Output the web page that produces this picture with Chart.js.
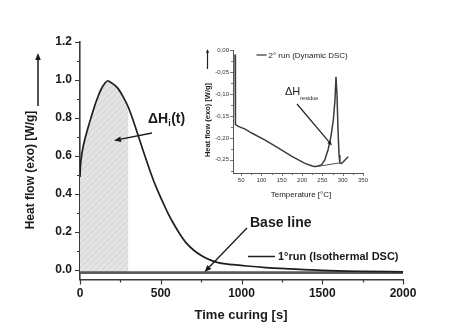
<!DOCTYPE html>
<html><head><meta charset="utf-8">
<script src="https://cdn.jsdelivr.net/npm/chart.js@4"></script>
<style>
html,body{margin:0;padding:0;background:#fff;}
#wrap{position:relative;width:474px;height:332px;overflow:hidden;}
#main{position:absolute;left:0;top:0;}
#inset{position:absolute;left:185px;top:40px;}
</style></head><body>
<div id="wrap"><canvas id="main" width="474" height="332"></canvas><canvas id="inset" width="195" height="165"></canvas></div>
<script>
// ---- main chart data (1st run, isothermal DSC) ----
const timeS      = [0, 3, 8, 15, 29, 50, 70, 90, 111, 130, 153, 173, 185, 194, 210, 235, 265, 300, 349, 390, 420, 454, 485, 516, 545, 578, 620, 660, 710, 764, 820, 867, 950, 1032, 1150, 1300, 1500, 1750, 2000];
const heatFlow1  = [0.49, 0.55, 0.59, 0.63, 0.684, 0.75, 0.807, 0.862, 0.912, 0.95, 0.982, 0.996, 0.99, 0.986, 0.976, 0.956, 0.915, 0.855, 0.737, 0.63, 0.555, 0.474, 0.41, 0.351, 0.298, 0.246, 0.187, 0.14, 0.1, 0.07, 0.048, 0.036, 0.028, 0.021, 0.013, 0.006, -0.002, -0.007, -0.01];
const baseLineTime  = [0, 2000];
const baseLineValue = [-0.014, -0.014];
const shadeEndTime  = 300;
const xTicksMain = [0, 500, 1000, 1500, 2000];
const xMinorMain = [250, 750, 1250, 1750];
const yTicksMain = [0, 0.2, 0.4, 0.6, 0.8, 1.0, 1.2];
const yMinorMain = [0.1, 0.3, 0.5, 0.7, 0.9, 1.1];

// ---- inset data (2nd run, dynamic DSC) ----
const temperatureC = [35, 35, 37, 43, 60, 76, 109, 141, 175, 207, 225, 232, 240, 248, 256, 264, 271, 277, 281, 283.5, 286, 288.5, 291, 293, 297, 301, 308, 314];
const heatFlow2    = [-0.01, -0.164, -0.170, -0.174, -0.18, -0.189, -0.205, -0.223, -0.242, -0.258, -0.264, -0.265, -0.264, -0.261, -0.25, -0.227, -0.197, -0.159, -0.114, -0.061, -0.102, -0.182, -0.239, -0.257, -0.258, -0.255, -0.248, -0.243];
const residueBaseT = [230, 293];
const residueBaseV = [-0.266, -0.257];
const xTicksInset = [50, 100, 150, 200, 250, 300, 350];
const xMinorInset = [75, 125, 175, 225, 275, 325];
const yTicksInset = [0, -0.05, -0.10, -0.15, -0.20, -0.25];
const yMinorInset = [-0.025, -0.075, -0.125, -0.175, -0.225, -0.275];

const FONT = "'Liberation Sans', Arial, Helvetica, sans-serif";
const pts = (xs, ys) => xs.map((x, i) => ({x: x, y: ys[i]}));

function hatch() {
  const c = document.createElement('canvas'); c.width = 6; c.height = 6;
  const g = c.getContext('2d');
  g.fillStyle = '#e3e3e3'; g.fillRect(0, 0, 6, 6);
  g.strokeStyle = '#d3d3d3'; g.lineWidth = 1;
  g.beginPath(); g.moveTo(0, 6); g.lineTo(6, 0); g.stroke();
  return g.createPattern(c, 'repeat');
}

function arrow(ctx, x1, y1, x2, y2, head, w, color) {
  ctx.save();
  ctx.strokeStyle = color; ctx.fillStyle = color; ctx.lineWidth = w;
  const ang = Math.atan2(y2 - y1, x2 - x1);
  const bx = x2 - head * Math.cos(ang), by = y2 - head * Math.sin(ang);
  ctx.beginPath(); ctx.moveTo(x1, y1); ctx.lineTo(bx, by); ctx.stroke();
  ctx.beginPath();
  ctx.moveTo(x2, y2);
  ctx.lineTo(bx + head * 0.4 * Math.sin(ang), by - head * 0.4 * Math.cos(ang));
  ctx.lineTo(bx - head * 0.4 * Math.sin(ang), by + head * 0.4 * Math.cos(ang));
  ctx.closePath(); ctx.fill();
  ctx.restore();
}

function tickPlugin(c) {
  return {
    id: 'tickMarks',
    afterDraw(chart) {
      const ctx = chart.ctx, a = chart.chartArea, xs = chart.scales.x, ys = chart.scales.y;
      ctx.save(); ctx.strokeStyle = c.color; ctx.lineWidth = c.w; ctx.beginPath();
      const xt = (v, L) => { const p = Math.round(xs.getPixelForValue(v)) + 0.5; ctx.moveTo(p, a.bottom); ctx.lineTo(p, a.bottom + L); };
      const yt = (v, L) => { const p = Math.round(ys.getPixelForValue(v)) + 0.5; ctx.moveTo(a.left, p); ctx.lineTo(a.left - L, p); };
      c.xMajor.forEach(v => xt(v, c.maj)); c.xMinor.forEach(v => xt(v, c.min));
      c.yMajor.forEach(v => yt(v, c.maj)); c.yMinor.forEach(v => yt(v, c.min));
      ctx.stroke(); ctx.restore();
    }
  };
}

const mainAnnot = {
  id: 'mainAnnot',
  afterDraw(chart) {
    const ctx = chart.ctx;
    ctx.save();
    ctx.fillStyle = '#1a1a1a';
    // ΔHi(t)
    ctx.font = 'bold 14px ' + FONT; ctx.textBaseline = 'alphabetic'; ctx.textAlign = 'left';
    let x = 148;
    ctx.fillText('ΔH', x, 123); x += ctx.measureText('ΔH').width;
    ctx.font = 'bold 9px ' + FONT; ctx.fillText('i', x, 126); x += ctx.measureText('i').width + 0.5;
    ctx.font = 'bold 14px ' + FONT; ctx.fillText('(t)', x, 123);
    arrow(ctx, 152, 133, 114, 140.5, 7, 1.4, '#1a1a1a');
    // Base line
    ctx.font = 'bold 14px ' + FONT; ctx.fillText('Base line', 250, 227);
    arrow(ctx, 247, 228, 204.5, 272, 7, 1.3, '#1a1a1a');
    // legend
    ctx.strokeStyle = '#222'; ctx.lineWidth = 1.5;
    ctx.beginPath(); ctx.moveTo(248, 256.5); ctx.lineTo(275, 256.5); ctx.stroke();
    ctx.font = 'bold 11px ' + FONT; ctx.textBaseline = 'middle';
    ctx.fillText('1°run (Isothermal DSC)', 278, 257);
    // axis titles
    ctx.font = 'bold 13px ' + FONT; ctx.textAlign = 'center'; ctx.textBaseline = 'alphabetic';
    ctx.fillText('Time curing [s]', 241, 319);
    ctx.save(); ctx.translate(34, 170); ctx.rotate(-Math.PI / 2);
    ctx.font = 'bold 12px ' + FONT; ctx.fillText('Heat flow (exo) [W/g]', 0, 0);
    ctx.restore();
    arrow(ctx, 38, 106, 38, 53, 7, 1.5, '#1a1a1a');
    ctx.restore();
  }
};

const insetAnnot = {
  id: 'insetAnnot',
  afterDraw(chart) {
    const ctx = chart.ctx;
    ctx.save();
    ctx.fillStyle = '#222'; ctx.strokeStyle = '#333'; ctx.lineWidth = 1.2;
    ctx.beginPath(); ctx.moveTo(71.5, 15); ctx.lineTo(81.5, 15); ctx.stroke();
    ctx.font = '8px ' + FONT; ctx.textBaseline = 'middle'; ctx.textAlign = 'left';
    ctx.fillText('2° run (Dynamic DSC)', 83.5, 15.5);
    ctx.textBaseline = 'alphabetic';
    ctx.font = '11px ' + FONT; ctx.fillText('ΔH', 100, 55);
    const w = ctx.measureText('ΔH').width;
    ctx.font = '5.5px ' + FONT; ctx.fillText('residue', 100 + w, 60);
    arrow(ctx, 112, 64, 147, 105.5, 5, 1.2, '#222');
    ctx.font = '8px ' + FONT; ctx.textAlign = 'center';
    ctx.fillText('Temperature [°C]', 116, 157);
    ctx.save(); ctx.translate(25, 80); ctx.rotate(-Math.PI / 2);
    ctx.font = 'bold 7.5px ' + FONT; ctx.fillText('Heat flow (exo) [W/g]', 0, 0);
    ctx.restore();
    arrow(ctx, 22.5, 29, 22.5, 9, 4, 1.2, '#222');
    ctx.restore();
  }
};

const shadePts = pts(timeS, heatFlow1).filter(p => p.x <= shadeEndTime);
const gridOff = {display: false, drawTicks: false, tickLength: 0};

new Chart(document.getElementById('main'), {
  type: 'scatter',
  data: {
    datasets: [
      {data: pts(timeS, heatFlow1), showLine: true, borderColor: '#1e1e1e', borderWidth: 1.7, pointRadius: 0, cubicInterpolationMode: 'monotone', fill: false},
      {data: pts(baseLineTime, baseLineValue), showLine: true, borderColor: '#5a5a5a', borderWidth: 2.6, pointRadius: 0, fill: false},
      {data: shadePts, showLine: true, borderWidth: 0, borderColor: 'rgba(0,0,0,0)', pointRadius: 0, cubicInterpolationMode: 'monotone', backgroundColor: hatch(), fill: {value: baseLineValue[0]}}
    ]
  },
  options: {
    responsive: false, animation: false, devicePixelRatio: 1,
    layout: {padding: {left: 0, right: 71, top: 42, bottom: 0}},
    plugins: {legend: {display: false}, tooltip: {enabled: false}},
    scales: {
      x: {type: 'linear', min: 0, max: 2000,
          afterBuildTicks: s => { s.ticks = xTicksMain.map(v => ({value: v})); },
          afterFit: s => { s.height = 52.5; },
          ticks: {font: {family: FONT, size: 12, weight: 'bold'}, color: '#1a1a1a', padding: 7, maxRotation: 0, callback: v => String(v)},
          grid: gridOff, border: {display: true, color: '#3a3a3a', width: 1.6}},
      y: {type: 'linear', min: -0.05, max: 1.2,
          afterBuildTicks: s => { s.ticks = yTicksMain.map(v => ({value: v})); },
          afterFit: s => { s.width = 80; },
          ticks: {font: {family: FONT, size: 12, weight: 'bold'}, color: '#1a1a1a', padding: 8, callback: v => Number(v).toFixed(1)},
          grid: gridOff, border: {display: true, color: '#3a3a3a', width: 1.6}}
    }
  },
  plugins: [tickPlugin({color: '#3a3a3a', w: 1.2, maj: 5, min: 3, xMajor: xTicksMain, xMinor: xMinorMain, yMajor: yTicksMain, yMinor: yMinorMain}), mainAnnot]
});

new Chart(document.getElementById('inset'), {
  type: 'scatter',
  data: {
    datasets: [
      {data: pts(temperatureC, heatFlow2), showLine: true, borderColor: '#3c3c3c', borderWidth: 1.5, pointRadius: 0, tension: 0, fill: false},
      {data: pts(residueBaseT, residueBaseV), showLine: true, borderColor: '#555', borderWidth: 1, pointRadius: 0, fill: false}
    ]
  },
  options: {
    responsive: false, animation: false, devicePixelRatio: 1,
    layout: {padding: {left: 0, right: 17, top: 10, bottom: 0}},
    plugins: {legend: {display: false}, tooltip: {enabled: false}},
    scales: {
      x: {type: 'linear', min: 30, max: 350,
          afterBuildTicks: s => { s.ticks = xTicksInset.map(v => ({value: v})); },
          afterFit: s => { s.height = 32; },
          ticks: {font: {family: FONT, size: 6}, color: '#333', padding: 4, maxRotation: 0, callback: v => String(v)},
          grid: gridOff, border: {display: true, color: '#555', width: 1}},
      y: {type: 'linear', min: -0.28, max: 0,
          afterBuildTicks: s => { s.ticks = yTicksInset.map(v => ({value: v})); },
          afterFit: s => { s.width = 48; },
          ticks: {font: {family: FONT, size: 6}, color: '#333', padding: 4,
                  callback: v => (Math.abs(v) < 1e-9 ? '0,00' : Number(v).toFixed(2).replace('.', ','))},
          grid: gridOff, border: {display: true, color: '#555', width: 1}}
    }
  },
  plugins: [tickPlugin({color: '#555', w: 0.8, maj: 3, min: 2, xMajor: xTicksInset, xMinor: xMinorInset, yMajor: yTicksInset, yMinor: yMinorInset}), insetAnnot]
});
</script>
</body></html>
